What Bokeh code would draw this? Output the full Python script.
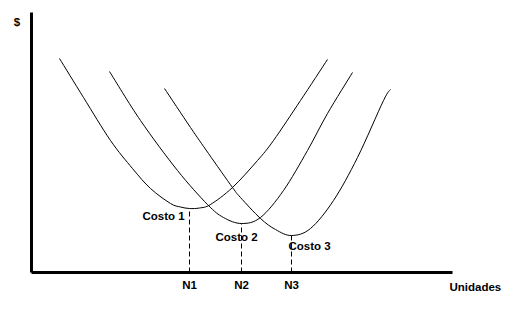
from bokeh.plotting import figure
from bokeh.models import Range1d, FixedTicker
from bokeh.core.properties import value
from bokeh.embed import file_html
from bokeh.resources import INLINE

# Data (x = units, y = cost)
costo1_x = [28, 52, 79, 101, 119, 139, 149, 158, 168, 179, 201, 226, 242, 269, 296]
costo1_y = [214, 175, 132, 104, 84, 69, 65.5, 64, 64.5, 68, 85, 112, 132, 172, 213]
costo2_x = [78, 109, 146, 176, 192, 210, 229, 252, 276, 296, 321]
costo2_y = [201, 152, 102, 68, 55, 49, 55, 82, 122, 159, 200]
costo3_x = [133, 159, 177, 201, 209, 229, 244, 260, 279, 302, 326, 352, 359]
costo3_y = [184, 145, 119, 85, 75, 54, 43, 37, 44, 72, 115, 172, 183]

n_ticks = [158, 210, 260]
n_labels = ["N1", "N2", "N3"]
curve_labels = ["Costo 1", "Costo 2", "Costo 3"]
x_max = 421
y_max = 260

FONT = "Liberation Sans"
FS = "11.5px"

p = figure(width=514, height=317, x_range=Range1d(-26, 483), y_range=Range1d(-20, 272),
           min_border_left=5, min_border_right=0, min_border_top=0, min_border_bottom=25,
           output_backend="svg", toolbar_location=None)
p.outline_line_color = None
p.grid.visible = False
p.background_fill_color = "white"
p.border_fill_color = "white"

# axes fixed at the origin, lines limited to the data area
p.xaxis.fixed_location = 0
p.yaxis.fixed_location = 0
p.xaxis.bounds = (0, x_max)
p.yaxis.bounds = (0, y_max)
p.xaxis.ticker = FixedTicker(ticks=n_ticks)
p.xaxis.major_label_overrides = {t: l for t, l in zip(n_ticks, n_labels)}
p.xaxis.major_label_text_font = FONT
p.xaxis.major_label_text_font_style = "bold"
p.xaxis.major_label_text_font_size = FS
p.xaxis.major_label_text_color = "black"
p.xaxis.major_label_standoff = 0
p.yaxis.ticker = FixedTicker(ticks=[])
for ax in (p.xaxis, p.yaxis):
    ax.axis_line_width = 3
    ax.axis_line_color = "black"
    ax.major_tick_line_color = None
    ax.minor_tick_line_color = None


def smooth(xs, ys):
    """Catmull-Rom segments through the read points, drawn as cubic Beziers."""
    n = len(xs)
    px = [xs[0]] + list(xs) + [xs[-1]]
    py = [ys[0]] + list(ys) + [ys[-1]]
    seg = dict(x0=[], y0=[], x1=[], y1=[], cx0=[], cy0=[], cx1=[], cy1=[])
    for i in range(1, n):
        seg["x0"].append(px[i]); seg["y0"].append(py[i])
        seg["x1"].append(px[i + 1]); seg["y1"].append(py[i + 1])
        seg["cx0"].append(px[i] + (px[i + 1] - px[i - 1]) / 6)
        seg["cy0"].append(py[i] + (py[i + 1] - py[i - 1]) / 6)
        seg["cx1"].append(px[i + 1] - (px[i + 2] - px[i]) / 6)
        seg["cy1"].append(py[i + 1] - (py[i + 2] - py[i]) / 6)
    return seg


for xs, ys in ((costo1_x, costo1_y), (costo2_x, costo2_y), (costo3_x, costo3_y)):
    p.bezier(source=smooth(xs, ys), x0="x0", y0="y0", x1="x1", y1="y1",
             cx0="cx0", cy0="cy0", cx1="cx1", cy1="cy1",
             line_color="black", line_width=1)

# dashed drop lines from each minimum
mins = [min(costo1_y), min(costo2_y), min(costo3_y)]
p.segment(x0=n_ticks, y0=[0, 0, 0], x1=n_ticks, y1=mins,
          line_color="black", line_width=1, line_dash="5 3")

# curve labels
label_x = [111, 184, 257]
label_y = [57, 36, 27]
p.text(x=label_x, y=label_y, text=curve_labels, text_font=value(FONT),
       text_font_style="bold", text_font_size=FS, text_color="black",
       text_align="left", text_baseline="middle")

# axis titles
p.text(x=[-14.5, 418], y=[251, -14], text=["$", "Unidades"], text_font=value(FONT),
       text_font_style="bold", text_font_size=FS, text_color="black",
       text_align=["center", "left"], text_baseline="middle")

open("out.html", "w").write(file_html(p, INLINE))
